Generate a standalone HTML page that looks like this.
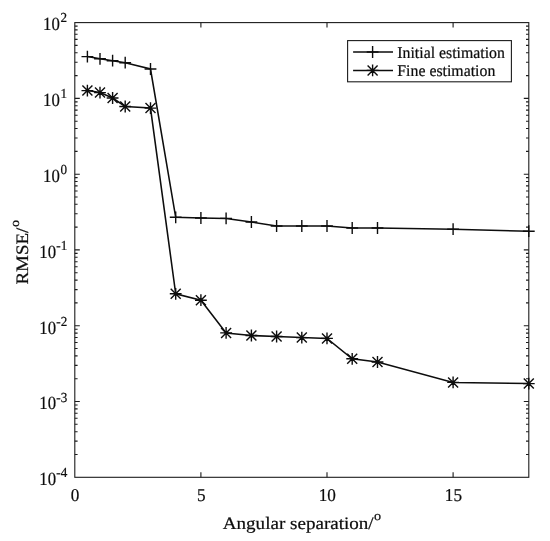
<!DOCTYPE html><html><head><meta charset="utf-8"><title>RMSE vs angular separation</title><style>html,body{margin:0;padding:0;background:#fff}</style></head><body><svg width="550" height="541" viewBox="0 0 550 541" style="display:block">
<rect width="550" height="541" fill="#fff"/>
<g fill="none" stroke="#1c1c1c" stroke-width="1.1">
<rect x="74.8" y="22.6" width="454.0" height="454.7"/>
<path d="M200.9 477.3v-5M200.9 22.6v5M327.0 477.3v-5M327.0 22.6v5M453.1 477.3v-5M453.1 22.6v5M74.8 454.5h2.8M528.8 454.5h-2.8M74.8 441.1h2.8M528.8 441.1h-2.8M74.8 431.7h2.8M528.8 431.7h-2.8M74.8 424.3h2.8M528.8 424.3h-2.8M74.8 418.3h2.8M528.8 418.3h-2.8M74.8 413.3h2.8M528.8 413.3h-2.8M74.8 408.9h2.8M528.8 408.9h-2.8M74.8 405.0h2.8M528.8 405.0h-2.8M74.8 401.5h5M528.8 401.5h-5M74.8 378.7h2.8M528.8 378.7h-2.8M74.8 365.4h2.8M528.8 365.4h-2.8M74.8 355.9h2.8M528.8 355.9h-2.8M74.8 348.5h2.8M528.8 348.5h-2.8M74.8 342.5h2.8M528.8 342.5h-2.8M74.8 337.5h2.8M528.8 337.5h-2.8M74.8 333.1h2.8M528.8 333.1h-2.8M74.8 329.2h2.8M528.8 329.2h-2.8M74.8 325.7h5M528.8 325.7h-5M74.8 302.9h2.8M528.8 302.9h-2.8M74.8 289.6h2.8M528.8 289.6h-2.8M74.8 280.1h2.8M528.8 280.1h-2.8M74.8 272.8h2.8M528.8 272.8h-2.8M74.8 266.8h2.8M528.8 266.8h-2.8M74.8 261.7h2.8M528.8 261.7h-2.8M74.8 257.3h2.8M528.8 257.3h-2.8M74.8 253.4h2.8M528.8 253.4h-2.8M74.8 249.9h5M528.8 249.9h-5M74.8 227.1h2.8M528.8 227.1h-2.8M74.8 213.8h2.8M528.8 213.8h-2.8M74.8 204.3h2.8M528.8 204.3h-2.8M74.8 197.0h2.8M528.8 197.0h-2.8M74.8 191.0h2.8M528.8 191.0h-2.8M74.8 185.9h2.8M528.8 185.9h-2.8M74.8 181.5h2.8M528.8 181.5h-2.8M74.8 177.6h2.8M528.8 177.6h-2.8M74.8 174.2h5M528.8 174.2h-5M74.8 151.4h2.8M528.8 151.4h-2.8M74.8 138.0h2.8M528.8 138.0h-2.8M74.8 128.5h2.8M528.8 128.5h-2.8M74.8 121.2h2.8M528.8 121.2h-2.8M74.8 115.2h2.8M528.8 115.2h-2.8M74.8 110.1h2.8M528.8 110.1h-2.8M74.8 105.7h2.8M528.8 105.7h-2.8M74.8 101.9h2.8M528.8 101.9h-2.8M74.8 98.4h5M528.8 98.4h-5M74.8 75.6h2.8M528.8 75.6h-2.8M74.8 62.2h2.8M528.8 62.2h-2.8M74.8 52.8h2.8M528.8 52.8h-2.8M74.8 45.4h2.8M528.8 45.4h-2.8M74.8 39.4h2.8M528.8 39.4h-2.8M74.8 34.3h2.8M528.8 34.3h-2.8M74.8 29.9h2.8M528.8 29.9h-2.8M74.8 26.1h2.8M528.8 26.1h-2.8"/>
</g>
<g fill="none" stroke="#0d0d0d" stroke-width="1.55">
<polyline points="87.4,56.6 100.0,58.8 112.6,60.7 125.2,62.7 150.5,69.0 175.7,217.3 200.9,218.0 226.1,218.4 251.4,222.0 276.6,226.0 301.8,226.0 327.0,226.0 352.2,228.0 377.5,228.0 453.1,229.2 528.8,231.2"/>
<polyline points="87.4,90.6 100.0,92.6 112.6,98.0 125.2,106.5 150.5,108.1 175.7,293.8 200.9,300.2 226.1,332.9 251.4,335.5 276.6,336.5 301.8,337.6 327.0,338.4 352.2,358.8 377.5,362.0 453.1,382.4 528.8,383.6"/>
<path d="M81.5 56.6h11.8M87.4 50.7v11.8M94.1 58.8h11.8M100.0 52.9v11.8M106.7 60.7h11.8M112.6 54.8v11.8M119.3 62.7h11.8M125.2 56.8v11.8M144.6 69.0h11.8M150.5 63.1v11.8M169.8 217.3h11.8M175.7 211.4v11.8M195.0 218.0h11.8M200.9 212.1v11.8M220.2 218.4h11.8M226.1 212.5v11.8M245.5 222.0h11.8M251.4 216.1v11.8M270.7 226.0h11.8M276.6 220.1v11.8M295.9 226.0h11.8M301.8 220.1v11.8M321.1 226.0h11.8M327.0 220.1v11.8M346.3 228.0h11.8M352.2 222.1v11.8M371.6 228.0h11.8M377.5 222.1v11.8M447.2 229.2h11.8M453.1 223.3v11.8M522.9 231.2h11.8M528.8 225.3v11.8M81.5 90.6h11.8M87.4 84.7v11.8M82.4 85.6l10.0 10.0M82.4 95.6l10.0 -10.0M94.1 92.6h11.8M100.0 86.7v11.8M95.0 87.6l10.0 10.0M95.0 97.6l10.0 -10.0M106.7 98.0h11.8M112.6 92.1v11.8M107.6 93.0l10.0 10.0M107.6 103.0l10.0 -10.0M119.3 106.5h11.8M125.2 100.6v11.8M120.2 101.5l10.0 10.0M120.2 111.5l10.0 -10.0M144.6 108.1h11.8M150.5 102.2v11.8M145.5 103.1l10.0 10.0M145.5 113.1l10.0 -10.0M169.8 293.8h11.8M175.7 287.9v11.8M170.7 288.8l10.0 10.0M170.7 298.8l10.0 -10.0M195.0 300.2h11.8M200.9 294.3v11.8M195.9 295.2l10.0 10.0M195.9 305.2l10.0 -10.0M220.2 332.9h11.8M226.1 327.0v11.8M221.1 327.9l10.0 10.0M221.1 337.9l10.0 -10.0M245.5 335.5h11.8M251.4 329.6v11.8M246.4 330.5l10.0 10.0M246.4 340.5l10.0 -10.0M270.7 336.5h11.8M276.6 330.6v11.8M271.6 331.5l10.0 10.0M271.6 341.5l10.0 -10.0M295.9 337.6h11.8M301.8 331.7v11.8M296.8 332.6l10.0 10.0M296.8 342.6l10.0 -10.0M321.1 338.4h11.8M327.0 332.5v11.8M322.0 333.4l10.0 10.0M322.0 343.4l10.0 -10.0M346.3 358.8h11.8M352.2 352.9v11.8M347.2 353.8l10.0 10.0M347.2 363.8l10.0 -10.0M371.6 362.0h11.8M377.5 356.1v11.8M372.5 357.0l10.0 10.0M372.5 367.0l10.0 -10.0M447.2 382.4h11.8M453.1 376.5v11.8M448.1 377.4l10.0 10.0M448.1 387.4l10.0 -10.0M522.9 383.6h11.8M528.8 377.7v11.8M523.8 378.6l10.0 10.0M523.8 388.6l10.0 -10.0M366.7 52.0h11.8M372.6 46.1v11.8M366.7 70.4h11.8M372.6 64.5v11.8M367.6 65.4l10.0 10.0M367.6 75.4l10.0 -10.0" stroke-width="1.4"/>
<path d="M353.1 52H393M353.1 70.4H393"/>
</g>
<rect x="347.6" y="40.6" width="163.8" height="41.2" fill="none" stroke="#1c1c1c" stroke-width="1.1"/>
<g font-family="'Liberation Serif', 'Times New Roman', serif" font-size="19" fill="#0d0d0d" stroke="#0d0d0d" stroke-width="0.22" text-rendering="geometricPrecision">
<text x="397.3" y="57.8" font-size="16.3" textLength="107.6" lengthAdjust="spacingAndGlyphs">Initial estimation</text>
<text x="397.3" y="75.8" font-size="16.3" textLength="98" lengthAdjust="spacingAndGlyphs">Fine estimation</text>
<text transform="translate(75.1 501.15) scale(0.955 1)" font-size="18" text-anchor="middle">0</text>
<text transform="translate(201.2 501.15) scale(0.955 1)" font-size="18" text-anchor="middle">5</text>
<text transform="translate(327.3 501.15) scale(0.955 1)" font-size="18" text-anchor="middle">10</text>
<text transform="translate(453.4 501.15) scale(0.955 1)" font-size="18" text-anchor="middle">15</text>
<text transform="translate(56.0 485.1) scale(0.9 1)" font-size="18.6" text-anchor="end">10</text>
<text transform="translate(56.3 477.40) scale(0.95 1)" font-size="13.8">-4</text>
<text transform="translate(56.0 409.3) scale(0.9 1)" font-size="18.6" text-anchor="end">10</text>
<text transform="translate(56.3 401.62) scale(0.95 1)" font-size="13.8">-3</text>
<text transform="translate(56.0 333.5) scale(0.9 1)" font-size="18.6" text-anchor="end">10</text>
<text transform="translate(56.3 325.83) scale(0.95 1)" font-size="13.8">-2</text>
<text transform="translate(56.0 257.8) scale(0.9 1)" font-size="18.6" text-anchor="end">10</text>
<text transform="translate(56.3 250.05) scale(0.95 1)" font-size="13.8">-1</text>
<text transform="translate(59.85 182.0) scale(0.9 1)" font-size="18.6" text-anchor="end">10</text>
<text transform="translate(60.5 173.62) scale(0.95 1)" font-size="13.8">0</text>
<text transform="translate(59.85 106.2) scale(0.9 1)" font-size="18.6" text-anchor="end">10</text>
<text transform="translate(60.5 97.83) scale(0.95 1)" font-size="13.8">1</text>
<text transform="translate(59.85 30.4) scale(0.9 1)" font-size="18.6" text-anchor="end">10</text>
<text transform="translate(60.5 22.05) scale(0.95 1)" font-size="13.8">2</text>
<text transform="translate(222.8 528.8) scale(1.089 1)" font-size="17.5">Angular separation/<tspan font-size="13" dy="-8.6" dx="0.4">o</tspan></text>
<text transform="translate(28.1 284.6) rotate(-90) scale(1.085 1)" font-size="17.5">RMSE/<tspan font-size="13" dy="-8.8" dx="0.5">o</tspan></text>
</g>
</svg></body></html>
